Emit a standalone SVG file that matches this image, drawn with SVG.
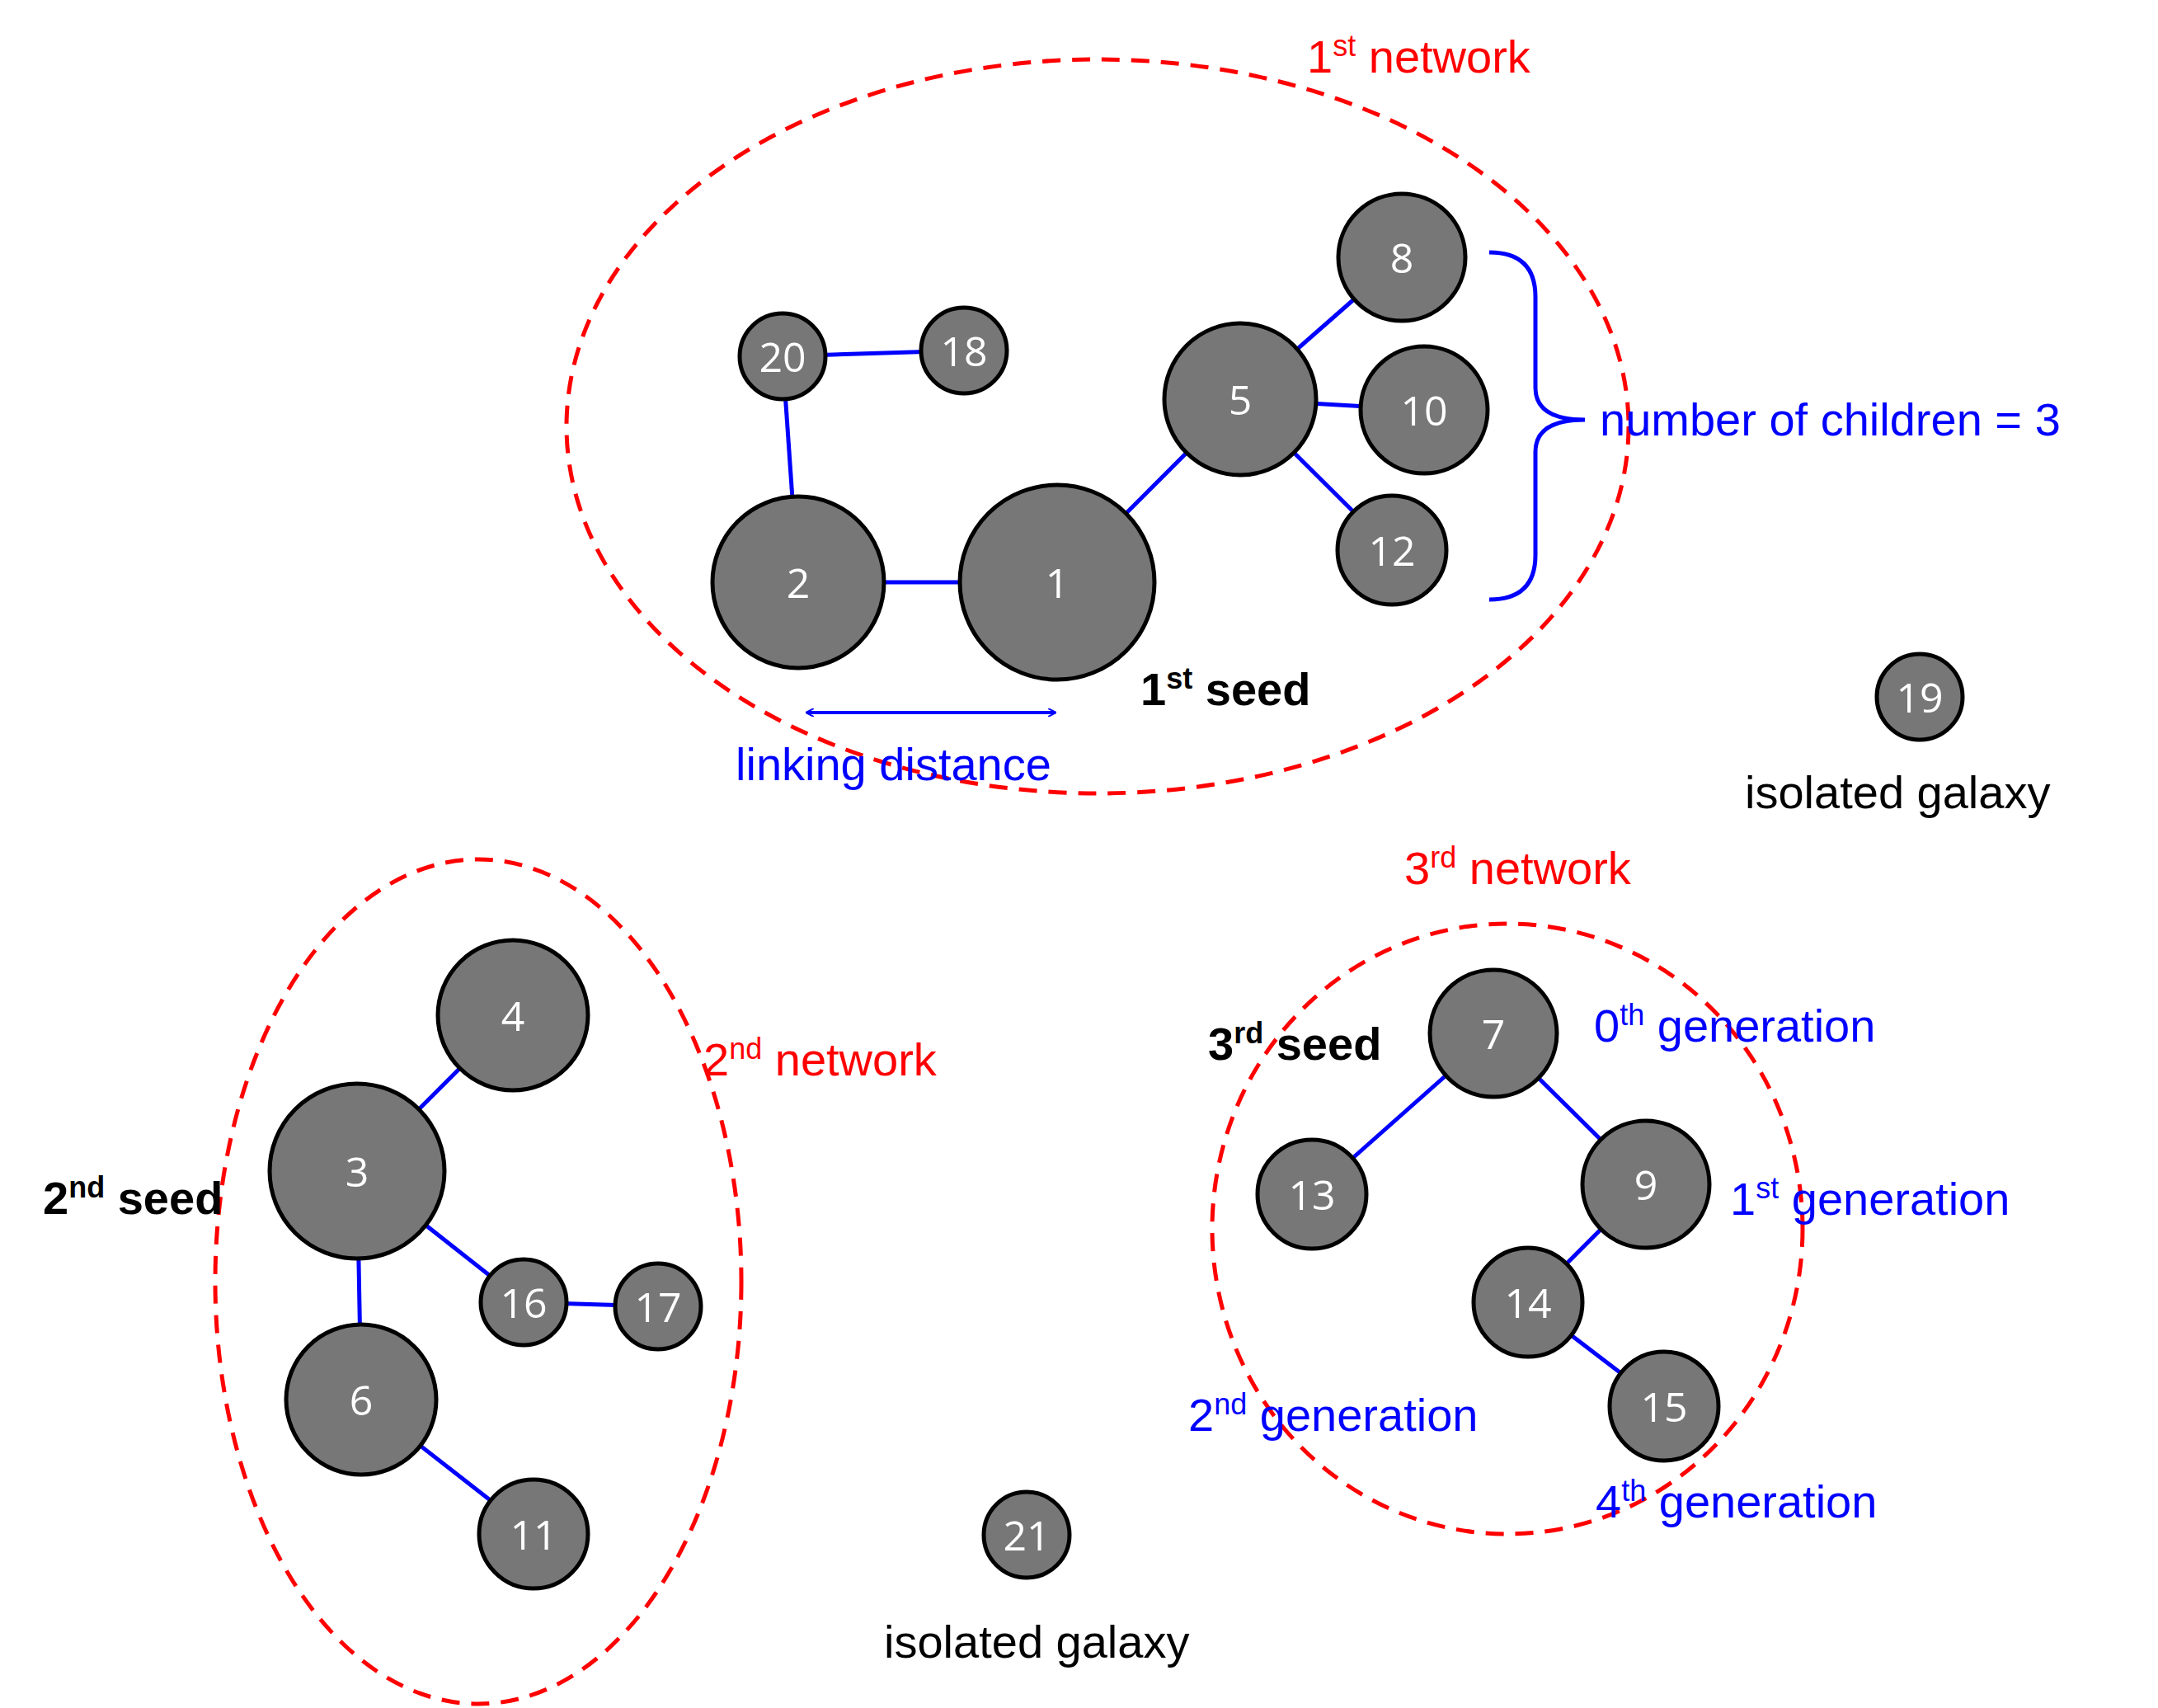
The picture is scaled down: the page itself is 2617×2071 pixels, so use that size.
<svg xmlns="http://www.w3.org/2000/svg" width="2617" height="2071" viewBox="0 0 2617 2071">
<style>
.n circle{fill:#777;stroke:#000;stroke-width:5}
.n text{fill:#fff;font-family:"Open Sans","Liberation Sans",sans-serif;font-size:50px;text-anchor:middle;dominant-baseline:central}
.e line{stroke:#00f;stroke-width:5}
.net{fill:none;stroke:#f00;stroke-width:5;stroke-dasharray:22 14}
.t{font-family:"Liberation Sans",Arial,sans-serif;font-size:56px}
.r{fill:#f00}.b{fill:#00f}.k{fill:#000}.bold{font-weight:bold}
</style>
<defs><marker id="a" markerWidth="10" markerHeight="10" refX="9" refY="5" orient="auto-start-reverse" markerUnits="userSpaceOnUse" viewBox="0 0 10 10"><path d="M0,0 L10,5 L0,10" fill="none" stroke="#00f" stroke-width="2"/></marker></defs>
<g id="networks">
<ellipse class="net" cx="1331" cy="517" rx="644" ry="445"/>
<ellipse class="net" cx="580" cy="1554" rx="319" ry="512"/>
<ellipse class="net" cx="1828" cy="1490" rx="358" ry="370"/>
</g>
<g id="connectors" class="e">
<line x1="968" y1="706" x2="1282" y2="706"/>
<line x1="968" y1="706" x2="949" y2="432"/>
<line x1="949" y1="432" x2="1169" y2="425"/>
<line x1="1282" y1="706" x2="1504" y2="484"/>
<line x1="1504" y1="484" x2="1700" y2="312"/>
<line x1="1504" y1="484" x2="1727" y2="497"/>
<line x1="1504" y1="484" x2="1688" y2="667"/>
<line x1="433" y1="1420" x2="622" y2="1231"/>
<line x1="433" y1="1420" x2="635" y2="1579"/>
<line x1="635" y1="1579" x2="798" y2="1584"/>
<line x1="433" y1="1420" x2="438" y2="1697"/>
<line x1="438" y1="1697" x2="647" y2="1860"/>
<line x1="1811" y1="1253" x2="1591" y2="1448"/>
<line x1="1811" y1="1253" x2="1996" y2="1436"/>
<line x1="1996" y1="1436" x2="1853" y2="1579"/>
<line x1="1853" y1="1579" x2="2018" y2="1705"/>
<line x1="978" y1="864" x2="1280" y2="864" marker-start="url(#a)" marker-end="url(#a)" style="stroke-width:4"/>
<path d="M1806,306 Q1862,306 1862,360 L1862,470 Q1862,509 1922,509 Q1862,509 1862,548 L1862,673 Q1862,727 1806,727" fill="none" stroke="#00f" stroke-width="5"/>
</g>
<g id="n1" class="n"><circle cx="1282" cy="706" r="118"/><text x="1282" y="706">1</text></g>
<g id="n2" class="n"><circle cx="968" cy="706" r="104"/><text x="968" y="706">2</text></g>
<g id="n20" class="n"><circle cx="949" cy="432" r="52"/><text x="949" y="432">20</text></g>
<g id="n18" class="n"><circle cx="1169" cy="425" r="52"/><text x="1169" y="425">18</text></g>
<g id="n5" class="n"><circle cx="1504" cy="484" r="92"/><text x="1504" y="484">5</text></g>
<g id="n8" class="n"><circle cx="1700" cy="312" r="77"/><text x="1700" y="312">8</text></g>
<g id="n10" class="n"><circle cx="1727" cy="497" r="77"/><text x="1727" y="497">10</text></g>
<g id="n12" class="n"><circle cx="1688" cy="667" r="66"/><text x="1688" y="667">12</text></g>
<g id="n19" class="n"><circle cx="2328" cy="845" r="52"/><text x="2328" y="845">19</text></g>
<g id="n4" class="n"><circle cx="622" cy="1231" r="91"/><text x="622" y="1231">4</text></g>
<g id="n3" class="n"><circle cx="433" cy="1420" r="106"/><text x="433" y="1420">3</text></g>
<g id="n16" class="n"><circle cx="635" cy="1579" r="52"/><text x="635" y="1579">16</text></g>
<g id="n17" class="n"><circle cx="798" cy="1584" r="52"/><text x="798" y="1584">17</text></g>
<g id="n6" class="n"><circle cx="438" cy="1697" r="91"/><text x="438" y="1697">6</text></g>
<g id="n11" class="n"><circle cx="647" cy="1860" r="66"/><text x="647" y="1860">11</text></g>
<g id="n21" class="n"><circle cx="1245" cy="1861" r="52"/><text x="1245" y="1861">21</text></g>
<g id="n7" class="n"><circle cx="1811" cy="1253" r="77"/><text x="1811" y="1253">7</text></g>
<g id="n13" class="n"><circle cx="1591" cy="1448" r="66"/><text x="1591" y="1448">13</text></g>
<g id="n9" class="n"><circle cx="1996" cy="1436" r="77"/><text x="1996" y="1436">9</text></g>
<g id="n14" class="n"><circle cx="1853" cy="1579" r="66"/><text x="1853" y="1579">14</text></g>
<g id="n15" class="n"><circle cx="2018" cy="1705" r="66"/><text x="2018" y="1705">15</text></g>
<g id="labels">
<text class="t r" x="1585" y="88">1<tspan font-size="36" dy="-20">st</tspan><tspan dy="20"> network</tspan></text>
<text class="t b" x="1940" y="528">number of children = 3</text>
<text class="t k bold" x="1383" y="855">1<tspan font-size="36" dy="-20">st</tspan><tspan dy="20"> seed</tspan></text>
<text class="t b" x="892" y="946">linking distance</text>
<text class="t k" x="2116" y="980">isolated galaxy</text>
<text class="t r" x="1703" y="1072">3<tspan font-size="36" dy="-20">rd</tspan><tspan dy="20">  network</tspan></text>
<text class="t r" x="853" y="1304">2<tspan font-size="36" dy="-20">nd</tspan><tspan dy="20"> network</tspan></text>
<text class="t k bold" x="1465" y="1285">3<tspan font-size="36" dy="-20">rd</tspan><tspan dy="20"> seed</tspan></text>
<text class="t b" x="1933" y="1263">0<tspan font-size="36" dy="-20">th</tspan><tspan dy="20"> generation</tspan></text>
<text class="t k bold" x="52" y="1472">2<tspan font-size="36" dy="-20">nd</tspan><tspan dy="20"> seed</tspan></text>
<text class="t b" x="2098" y="1473">1<tspan font-size="36" dy="-20">st</tspan><tspan dy="20"> generation</tspan></text>
<text class="t b" x="1441" y="1735">2<tspan font-size="36" dy="-20">nd</tspan><tspan dy="20">  generation</tspan></text>
<text class="t b" x="1935" y="1840">4<tspan font-size="36" dy="-20">th</tspan><tspan dy="20"> generation</tspan></text>
<text class="t k" x="1072" y="2010">isolated galaxy</text>
</g>
</svg>
